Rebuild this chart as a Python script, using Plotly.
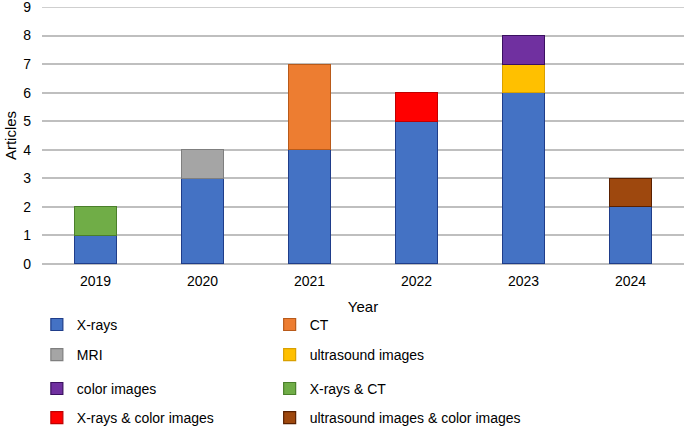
# ARTICLES PER YEAR BY IMAGE TYPE - STACKED BAR CHART
# ----------------------------------------------------------------------------------------------------
import plotly.graph_objects as go

# DATA
# ----------------------------------------------------------------------------------------------------
years = ['2019', '2020', '2021', '2022', '2023', '2024']

xrays = [1, 3, 4, 5, 6, 2]
ct = [0, 0, 3, 0, 0, 0]
mri = [0, 1, 0, 0, 0, 0]
ultrasound = [0, 0, 0, 0, 1, 0]
color_images = [0, 0, 0, 0, 1, 0]
xrays_ct = [1, 0, 0, 0, 0, 0]
xrays_color = [0, 0, 0, 1, 0, 0]
ultrasound_color = [0, 0, 0, 0, 0, 1]

series_names = ['X-rays', 'CT', 'MRI', 'ultrasound images', 'color images',
                'X-rays & CT', 'X-rays & color images', 'ultrasound images & color images']
series_values = [xrays, ct, mri, ultrasound, color_images, xrays_ct, xrays_color, ultrasound_color]

fill_colors = ['#4472C4', '#ED7D31', '#A5A5A5', '#FFC000', '#7030A0', '#70AD47', '#FF0000', '#9E480E']
edge_colors = ['#1F3D8A', '#B85A1A', '#7F7F7F', '#D9A000', '#3A1060', '#4A7F2A', '#C00000', '#5A2000']

# DATA VISUALIZATION
# ----------------------------------------------------------------------------------------------------
fig = go.Figure()

font = dict(family='Liberation Sans, Arial, sans-serif', size=14, color='#000000')

# one legend box per entry: 2 columns x 4 rows under the axis
col_x = [-0.008, 0.3546]
row_y = [-0.237, -0.354, -0.486, -0.599]
legend_layout = {}

for i, (name, vals, fc, ec) in enumerate(zip(series_names, series_values, fill_colors, edge_colors)):
    lg = 'legend' if i == 0 else 'legend%d' % (i + 1)
    fig.add_trace(go.Bar(
        x=years,
        y=[v if v else None for v in vals],
        name=name,
        marker=dict(color=fc, line=dict(color=ec, width=1.2)),
        legend=lg,
        showlegend=True,
    ))
    legend_layout[lg] = dict(
        x=col_x[i % 2], y=row_y[i // 2], xanchor='left', yanchor='middle',
        itemwidth=30, font=font, bgcolor='rgba(0,0,0,0)',
    )

fig.update_layout(
    width=685,
    height=428,
    showlegend=True,
    barmode='stack',
    bargap=0.61,
    plot_bgcolor='white',
    paper_bgcolor='white',
    font=font,
    margin=dict(l=42, r=1, t=7, b=164, autoexpand=False),
    xaxis=dict(
        title=dict(text='Year', font=dict(font, size=15), standoff=13),
        showgrid=False, showline=False, ticks='', ticklabelstandoff=7,
    ),
    yaxis=dict(
        title=dict(text='Articles', font=dict(font, size=15), standoff=2),
        range=[0, 9], autorange=False, dtick=1, tick0=0,
        showgrid=True, gridcolor='#BFBFBF', gridwidth=1.5,
        zeroline=True, zerolinecolor='#BFBFBF', zerolinewidth=1.5,
        showline=False, ticks='', ticklabelstandoff=10,
        ticklabeloverflow='allow',
    ),
    **legend_layout,
)

# light grey top line at 9, drawn along the plot edge
fig.add_hline(y=9, line=dict(color='#BFBFBF', width=1.5), layer='below')

# drop the default page margin so the figure sits at the window's corner
fig.write_html('out.html', config={'displayModeBar': False},
               post_script="document.body.style.margin='0px';")
